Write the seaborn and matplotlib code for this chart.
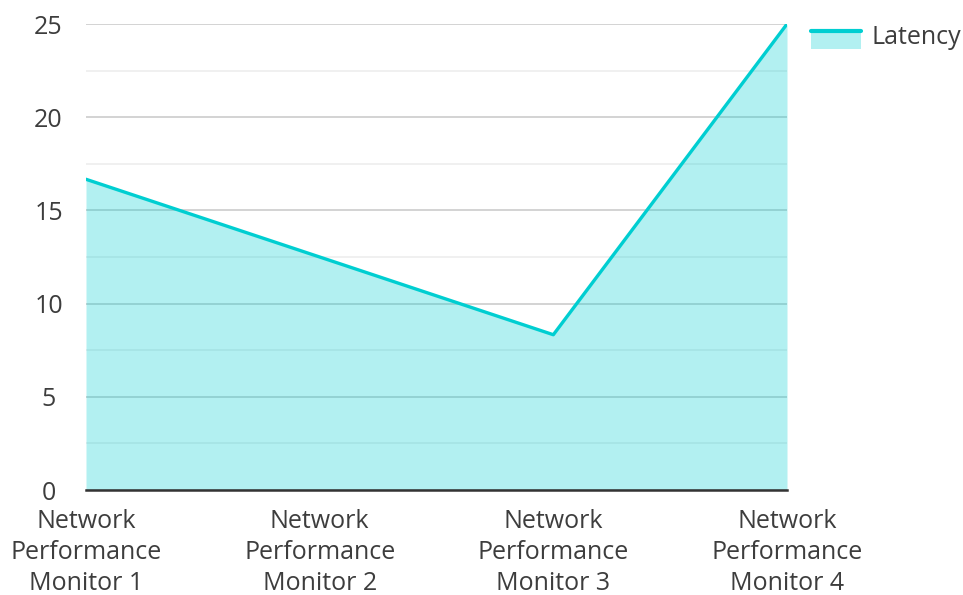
import matplotlib

matplotlib.use("Agg")

import matplotlib.pyplot as plt
import pandas as pd
import seaborn as sns
from matplotlib.legend_handler import HandlerBase
from matplotlib.lines import Line2D
from matplotlib.patches import Rectangle
from matplotlib.ticker import MultipleLocator

categories = [
    "Network Performance Monitor 1",
    "Network Performance Monitor 2",
    "Network Performance Monitor 3",
    "Network Performance Monitor 4",
]
tick_labels = [
    "Network\nPerformance\nMonitor 1",
    "Network\nPerformance\nMonitor 2",
    "Network\nPerformance\nMonitor 3",
    "Network\nPerformance\nMonitor 4",
]
latency = [16.67, 12.5, 8.33, 25]

LINE = "#00CED1"
TEXT = "#3d3d3d"


class AreaHandler(HandlerBase):
    def create_artists(self, legend, orig_handle, xdescent, ydescent, width, height, fontsize, trans):
        top = -ydescent + height * 0.7
        rect = Rectangle((-xdescent, -ydescent - height * 0.3), width, top + ydescent + height * 0.3,
                         facecolor=LINE, alpha=0.3, edgecolor="none", transform=trans)
        line = Line2D([-xdescent, -xdescent + width], [top, top], color=LINE, lw=3, transform=trans)
        return [rect, line]


df = pd.DataFrame({"monitor": categories, "latency": latency})
df["pos"] = range(len(df))

sns.set_theme(style="white")
plt.rcParams["font.family"] = ["Open Sans", "DejaVu Sans"]

fig = plt.figure(figsize=(9.63, 5.95), dpi=100)
ax = fig.add_axes([86 / 963, 105 / 595, 701 / 963, 466 / 595])

ax.fill_between(df["pos"], df["latency"], 0, color=LINE, alpha=0.3, lw=0, zorder=1)
sns.lineplot(data=df, x="pos", y="latency", color=LINE, lw=2.4, ax=ax, zorder=3)

ax.set_xlim(0, len(df) - 1)
ax.set_ylim(0, 25)
ax.yaxis.set_major_locator(MultipleLocator(5))
ax.yaxis.set_minor_locator(MultipleLocator(2.5))
ax.set_axisbelow(True)
ax.grid(axis="y", which="major", color="#cccccc", lw=1.2)
ax.grid(axis="y", which="minor", color="#eeeeee", lw=1.2)
ax.grid(axis="x", visible=False)

ax.set_xticks(df["pos"])
ax.set_xticklabels(tick_labels, linespacing=1.3)
ax.tick_params(axis="both", which="both", length=0, labelsize=18, labelcolor=TEXT)
ax.tick_params(axis="x", pad=14)
ax.tick_params(axis="y", pad=27)
for lbl in ax.get_yticklabels():
    lbl.set_horizontalalignment("center")
ax.set_xlabel("")
ax.set_ylabel("")

for side in ["left", "right", "top"]:
    ax.spines[side].set_visible(False)
ax.spines["bottom"].set_color("#333333")
ax.spines["bottom"].set_linewidth(1.8)
ax.spines["bottom"].set_zorder(4)

fig.legend(
    [object()],
    ["Latency"],
    handler_map={object: AreaHandler()},
    loc="center left",
    bbox_to_anchor=(798 / 963, 1 - 37 / 595),
    frameon=False,
    fontsize=18,
    labelcolor=TEXT,
    handlelength=2.0,
    handletextpad=0.45,
    borderpad=0,
)

fig.savefig("out.png", dpi=100)
